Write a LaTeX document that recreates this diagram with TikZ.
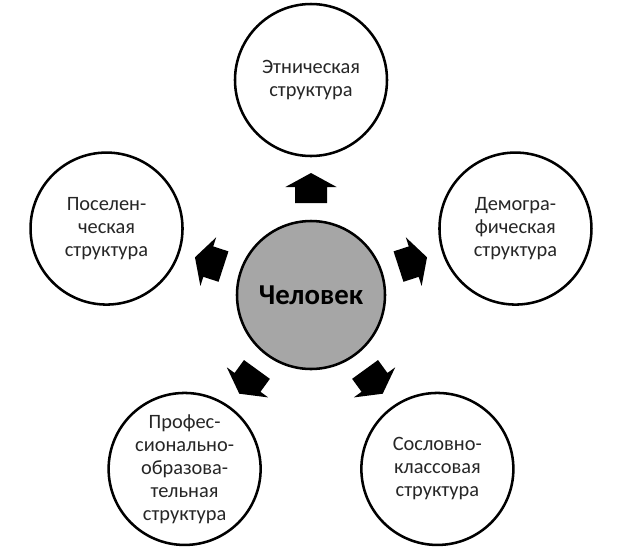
\documentclass[tikz,border=0pt]{standalone}
\usepackage{fontspec}
\setmainfont{Carlito}
\usetikzlibrary{positioning,calc}

\begin{document}
\begin{tikzpicture}[
  part/.style={circle, draw=black, line width=1.8pt, fill=white, minimum size=3.8cm, inner sep=0pt, align=center, text=black!85, font=\fontsize{14.5}{16.4}\selectfont},
  hub/.style={circle, draw=black, line width=1.8pt, fill=black!35, minimum size=3.7cm, inner sep=0pt, font=\fontsize{20.5}{24}\selectfont\bfseries},
  blockarrow/.style={fill=black}
]
  \useasboundingbox (-7.775,-6.35) rectangle (7.825,7.375);
  \node[hub] (man) at (0,0) {Человек};
  \node[part] (ethn) at (90:5.375) {Этническая\\структура};
  \node[part] (demo) at (18:5.375) {Демогра-\\фическая\\структура};
  \node[part] (klass) at (306:5.375) {Сословно-\\классовая\\структура};
  \node[part] (prof) at (234:5.375) {Профес-\\сионально-\\образова-\\тельная\\структура};
  \node[part] (posel) at (162:5.375) {Поселен-\\ческая\\структура};
  \foreach \a in {90,18,306,234,162} {
    \fill[blockarrow, shift={(man.center)}, rotate=\a]
      (2.3,-0.4) -- (2.7,-0.4) -- (2.7,-0.64) -- (3.05,0) -- (2.7,0.64) -- (2.7,0.4) -- (2.3,0.4) -- cycle;
  }
\end{tikzpicture}
\end{document}
